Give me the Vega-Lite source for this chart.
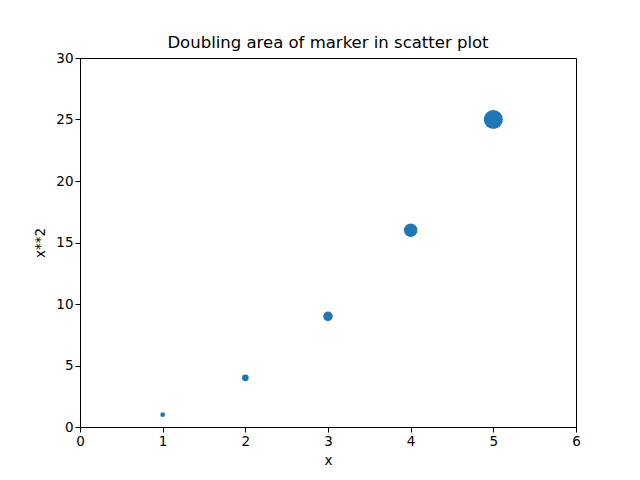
{
  "$schema": "https://vega.github.io/schema/vega-lite/v6.json",
  "description": "Doubling area of marker in scatter plot",
  "autosize": {"type": "none"},
  "width": 496,
  "height": 369,
  "padding": {"left": 80, "top": 58, "right": 64, "bottom": 53},
  "title": {
    "text": "Doubling area of marker in scatter plot",
    "font": "DejaVu Sans",
    "fontSize": 16.5,
    "fontWeight": "normal",
    "color": "black",
    "offset": 0
  },
  "config": {
    "background": "white",
    "view": {"stroke": "black", "strokeWidth": 1},
    "axis": {
      "grid": false,
      "domainColor": "black",
      "tickColor": "black",
      "tickSize": 5,
      "labelFlush": false,
      "labelOverlap": false,
      "labelFont": "DejaVu Sans",
      "labelFontSize": 13.5,
      "labelColor": "black",
      "titleFont": "DejaVu Sans",
      "titleFontSize": 13.5,
      "titleFontWeight": "normal",
      "titleColor": "black"
    }
  },
  "data": {
    "values": [
      {"x": 1, "y": 1, "s": 10},
      {"x": 2, "y": 4, "s": 20},
      {"x": 3, "y": 9, "s": 40},
      {"x": 4, "y": 16, "s": 80},
      {"x": 5, "y": 25, "s": 160}
    ]
  },
  "mark": {"type": "circle", "color": "#1f77b4", "opacity": 1},
  "encoding": {
    "x": {
      "field": "x",
      "type": "quantitative",
      "title": "x",
      "scale": {"domain": [0, 6], "nice": false},
      "axis": {"values": [0, 1, 2, 3, 4, 5, 6], "titlePadding": 6}
    },
    "y": {
      "field": "y",
      "type": "quantitative",
      "title": "x**2",
      "scale": {"domain": [0, 30], "nice": false},
      "axis": {"values": [0, 5, 10, 15, 20, 25, 30], "titlePadding": 8}
    },
    "size": {
      "field": "s",
      "type": "quantitative",
      "legend": null,
      "scale": {"type": "linear", "domain": [0, 160], "range": [0, 361], "zero": true}
    }
  }
}
